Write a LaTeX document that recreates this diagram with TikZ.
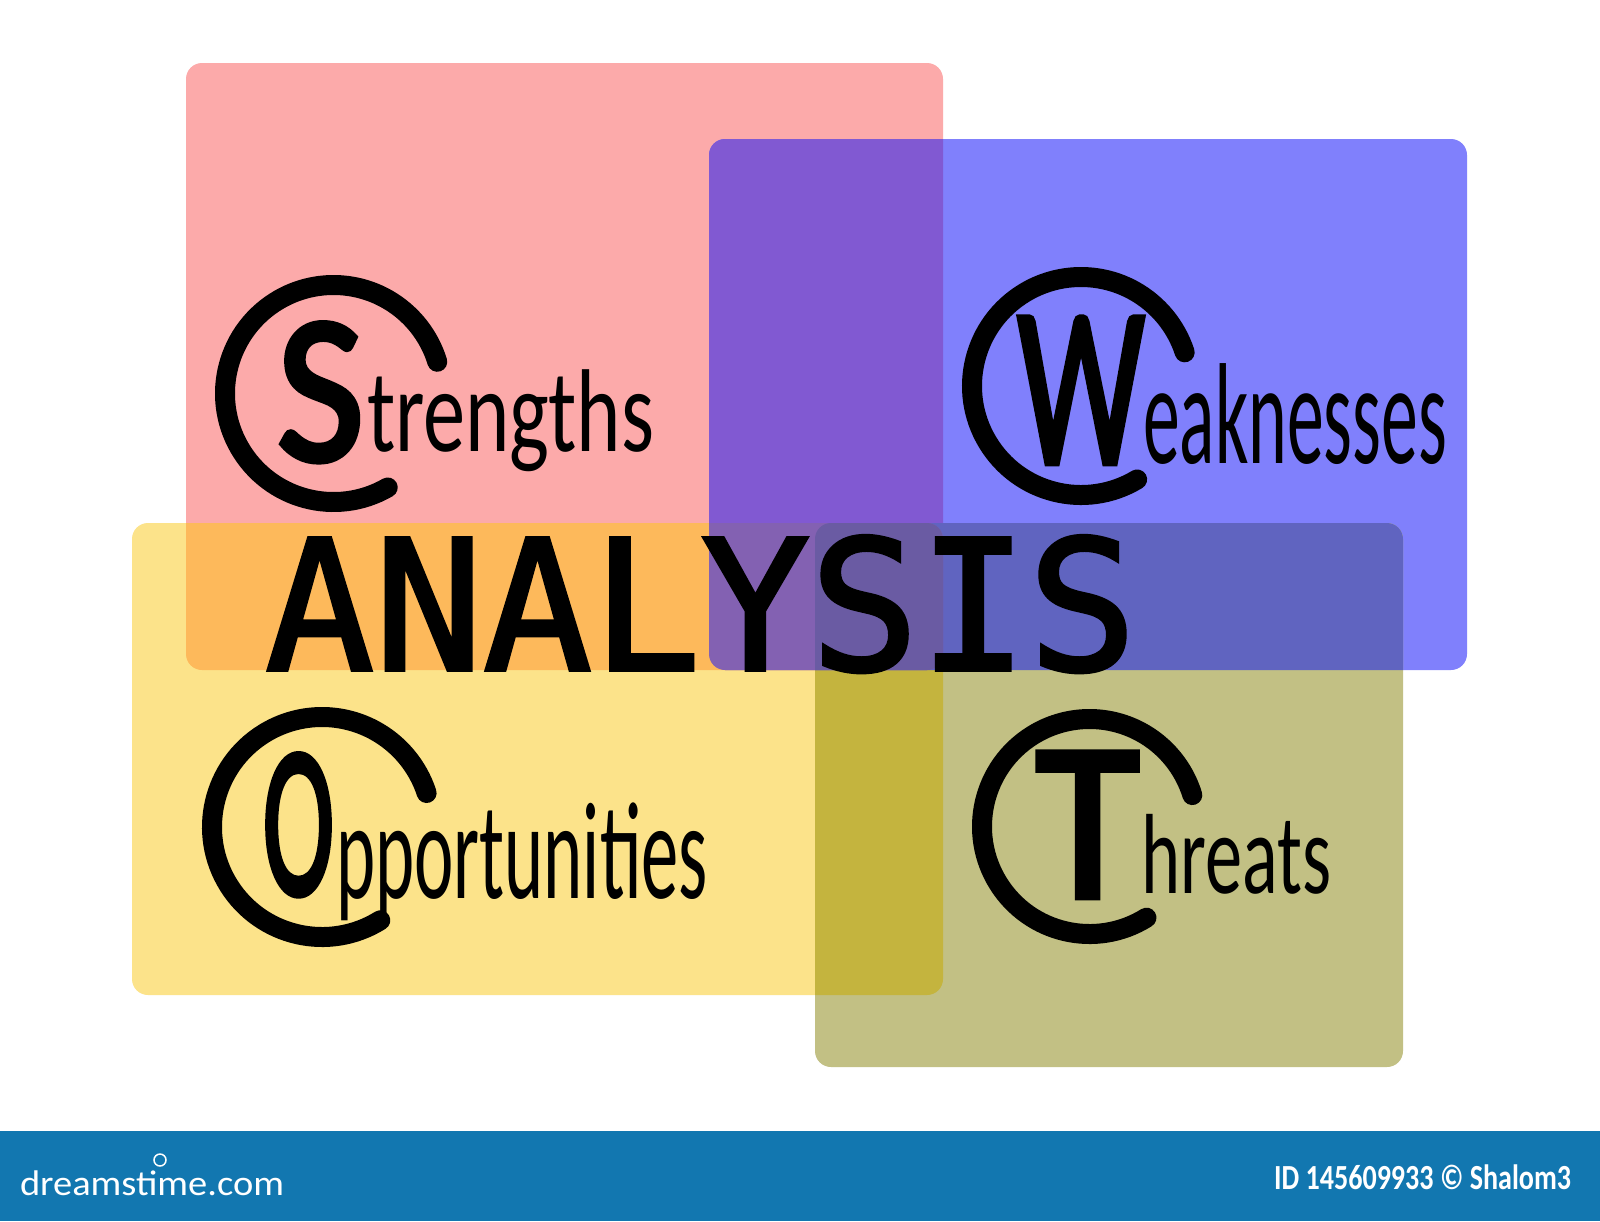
\documentclass[tikz,border=0pt]{standalone}
\usepackage{fontspec}
\usepackage{graphicx}
\setmainfont{Carlito}
\newfontfamily\anfont{DejaVu Sans Mono}[FakeBold=2]
\newfontfamily\bigfont{Carlito}[FakeBold=3]
\definecolor{pinkC}{HTML}{FCAAAA}
\definecolor{blueC}{HTML}{8080FC}
\definecolor{yelC}{HTML}{FCE38A}
\definecolor{oliC}{HTML}{C2C084}
\definecolor{PB}{HTML}{8159D2}
\definecolor{PY}{HTML}{FDB95B}
\definecolor{PBY}{HTML}{8361B2}
\definecolor{PBYO}{HTML}{6A5BA3}
\definecolor{BO}{HTML}{6064C0}
\definecolor{YO}{HTML}{C4B43E}
\definecolor{barC}{HTML}{1277B0}
\begin{document}
\begin{tikzpicture}[x=1pt,y=-1pt,
  box/.style={rounded corners=16pt},
  ring/.style={line width=20pt, line cap=round, draw=black},
  word/.style={inner sep=0pt, outer sep=0pt, anchor=base west, text=black}]
\fill[white] (0,0) rectangle (1600,1221);
\useasboundingbox (0,0) rectangle (1600,1221);
% base rectangles
\fill[pinkC, box] (186,63) rectangle (943,670);
\fill[blueC, box] (709,139) rectangle (1467,670);
\fill[yelC, box] (132,523) rectangle (943,995);
\fill[oliC, box] (815,523) rectangle (1403,1067);
% overlaps
\begin{scope}
  \clip[box] (186,63) rectangle (943,670);
  \fill[PB, box] (709,139) rectangle (1467,670);
\end{scope}
\begin{scope}
  \clip[box] (186,63) rectangle (943,670);
  \fill[PY, box] (132,523) rectangle (943,995);
\end{scope}
\begin{scope}
  \clip[box] (132,523) rectangle (943,995);
  \fill[YO, box] (815,523) rectangle (1403,1067);
\end{scope}
\begin{scope}
  \clip[box] (709,139) rectangle (1467,670);
  \fill[BO, box] (815,523) rectangle (1403,1067);
\end{scope}
\begin{scope}
  \clip[box] (186,63) rectangle (943,670);
  \clip[box] (709,139) rectangle (1467,670);
  \fill[PBY, box] (132,523) rectangle (943,995);
\end{scope}
\begin{scope}
  \clip[box] (186,63) rectangle (943,670);
  \clip[box] (709,139) rectangle (1467,670);
  \clip[box] (132,523) rectangle (943,995);
  \fill[PBYO, box] (815,523) rectangle (1403,1067);
\end{scope}
% rings
\draw[ring] (333.5,393.5) ++(60:108.5) arc[start angle=60, end angle=343, radius=108.5];
\draw[ring] (1081,386) ++(59:109) arc[start angle=59, end angle=342, radius=109];
\draw[ring] (322,827) ++(58:110) arc[start angle=58, end angle=342, radius=110];
\draw[ring] (1089.5,826.5) ++(58:107.5) arc[start angle=58, end angle=343, radius=107.5];
% words
\node[word] (sS) at (277,460) {\resizebox*{87pt}{138pt}{\bigfont S}};
\node[word] (sW) at (367,451) {\resizebox*{287pt}{102pt}{trengths}};
\node[word] (wW) at (1018,463) {\resizebox*{126pt}{145pt}{\bigfont W}};
\node[word] (wR) at (1143,463) {\resizebox*{304pt}{101pt}{eaknesses}};
\node[word] (oO) at (263,894) {\resizebox*{71pt}{141pt}{\bigfont O}};
\node[word] (oR) at (336,898) {\resizebox*{372pt}{118pt}{pportunities}};
\node[word] (tT) at (1036,897) {\resizebox*{103pt}{144pt}{\bigfont T}};
\node[word] (tR) at (1141,893) {\resizebox*{190pt}{80pt}{hreats}};
\node[inner sep=0pt, anchor=base] (an) at (701,670)
  {\fontsize{181pt}{181pt}\selectfont\anfont ANALYSIS};
% bottom bar
\fill[barC] (0,1131) rectangle (1600,1221);
\node[word, text=white] (dt) at (20,1195) {\resizebox*{264pt}{25pt}{dreamstime.com}};
\draw[white, line width=1.5pt] (160,1160) circle[radius=6];
\node[word, text=white] (id) at (1274,1189) {\resizebox*{297pt}{25pt}{\bfseries ID 145609933 © Shalom3}};
\end{tikzpicture}
\end{document}
